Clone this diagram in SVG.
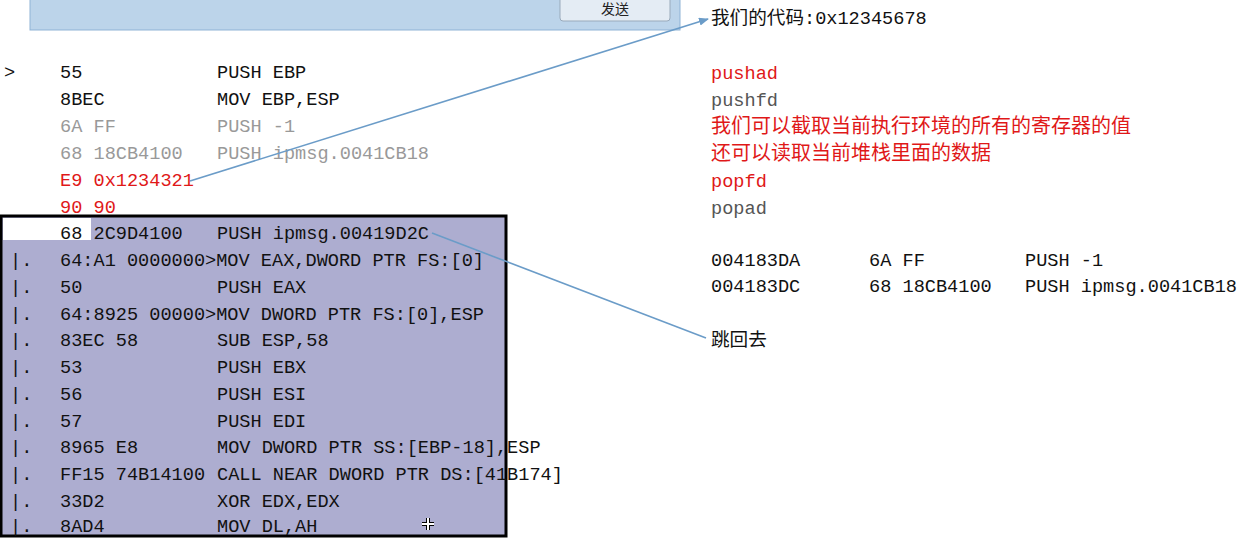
<svg xmlns="http://www.w3.org/2000/svg" width="1242" height="541" viewBox="0 0 1242 541">
<style>
.m{font-family:"Liberation Mono",monospace;font-size:18.6px;fill:#111}
.g{fill:#999}
.r{fill:#e01818}
.c{font-family:"Liberation Mono","Noto Sans CJK SC",monospace;font-size:18.6px;fill:#111}
.cr{font-family:"Noto Sans CJK SC",sans-serif;font-size:20px;fill:#e01818}
.ln{stroke:#6b9cc8;stroke-width:1.6;fill:none}
</style>
<defs><marker id="ah" markerWidth="10" markerHeight="8" refX="9" refY="4" orient="auto" markerUnits="userSpaceOnUse"><path d="M0,0 L10,4 L0,8 z" fill="#6b9cc8"/></marker></defs>
<rect width="1242" height="541" fill="#fff"/>
<g id="panel">
<rect x="30" y="-2" width="650" height="32" fill="#bcd4ea" stroke="#8fb3d6"/>
<rect x="560" y="-6" width="110" height="27" rx="3" fill="#e4ecf4" stroke="#9ab"/>
<text x="615" y="14" text-anchor="middle" font-family="Noto Sans CJK SC,sans-serif" font-size="14" fill="#222">发送</text>
</g>
<g id="code-top">
<text x="4" y="78" class="m">&gt;</text>
<text x="60" y="78" class="m">55</text><text x="217" y="78" class="m">PUSH EBP</text>
<text x="60" y="105" class="m">8BEC</text><text x="217" y="105" class="m">MOV EBP,ESP</text>
<text x="60" y="132" class="m g">6A FF</text><text x="217" y="132" class="m g">PUSH -1</text>
<text x="60" y="159" class="m g">68 18CB4100</text><text x="217" y="159" class="m g">PUSH ipmsg.0041CB18</text>
<text x="60" y="186" class="m r">E9 0x1234321</text>
<text x="60" y="213" class="m r">90 90</text>
</g>
<g id="selection">
<rect x="1" y="216" width="505" height="320" fill="#adadd0" stroke="#000" stroke-width="3"/>
<rect x="3" y="218" width="88" height="22" fill="#fff"/>
<text x="60" y="239" class="m">68 2C9D4100</text><text x="217" y="239" class="m">PUSH ipmsg.00419D2C</text>
<g class="m">
<text x="10" y="266">|.</text><text x="60" y="266">64:A1 0000000&gt;MOV EAX,DWORD PTR FS:[0]</text>
<text x="10" y="293">|.</text><text x="60" y="293">50</text><text x="217" y="293">PUSH EAX</text>
<text x="10" y="320">|.</text><text x="60" y="320">64:8925 00000&gt;MOV DWORD PTR FS:[0],ESP</text>
<text x="10" y="346">|.</text><text x="60" y="346">83EC 58</text><text x="217" y="346">SUB ESP,58</text>
<text x="10" y="373">|.</text><text x="60" y="373">53</text><text x="217" y="373">PUSH EBX</text>
<text x="10" y="400">|.</text><text x="60" y="400">56</text><text x="217" y="400">PUSH ESI</text>
<text x="10" y="427">|.</text><text x="60" y="427">57</text><text x="217" y="427">PUSH EDI</text>
<text x="10" y="453">|.</text><text x="60" y="453">8965 E8</text><text x="217" y="453">MOV DWORD PTR SS:[EBP-18],ESP</text>
<text x="10" y="480">|.</text><text x="60" y="480">FF15 74B14100</text><text x="217" y="480">CALL NEAR DWORD PTR DS:[41B174]</text>
<text x="10" y="507">|.</text><text x="60" y="507">33D2</text><text x="217" y="507">XOR EDX,EDX</text>
<text x="10" y="532">|.</text><text x="60" y="532">8AD4</text><text x="217" y="532">MOV DL,AH</text>
</g>
<path d="M422,524 h12 M428,518 v12" stroke="#000" stroke-width="4"/>
<path d="M422,524 h12 M428,518 v12" stroke="#fff" stroke-width="2"/>
</g>
<g id="notes">
<text x="711" y="24" class="c">我们的代码:0x12345678</text>
<text x="711" y="79" class="m r">pushad</text>
<text x="711" y="106" class="m r" style="fill:#555">pushfd</text>
<text x="711" y="133" class="cr">我们可以截取当前执行环境的所有的寄存器的值</text>
<text x="711" y="160" class="cr">还可以读取当前堆栈里面的数据</text>
<text x="711" y="187" class="m r">popfd</text>
<text x="711" y="214" class="m" style="fill:#555">popad</text>
<text x="711" y="266" class="m">004183DA</text><text x="869" y="266" class="m">6A FF</text><text x="1025" y="266" class="m">PUSH -1</text>
<text x="711" y="292" class="m">004183DC</text><text x="869" y="292" class="m">68 18CB4100</text><text x="1025" y="292" class="m">PUSH ipmsg.0041CB18</text>
<text x="711" y="346" class="c" font-family="Noto Sans CJK SC,sans-serif" font-size="20">跳回去</text>
</g>
<g id="connectors">
<line x1="190" y1="181" x2="708" y2="19" class="ln" marker-end="url(#ah)"/>
<line x1="432" y1="233" x2="706" y2="338" class="ln"/>
</g>
</svg>
